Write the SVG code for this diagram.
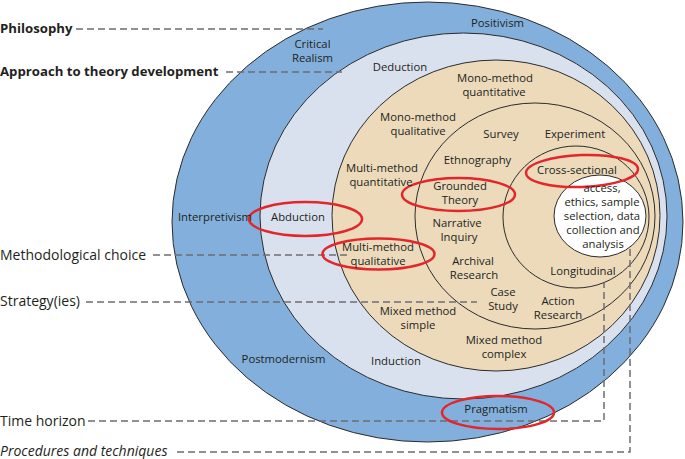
<svg xmlns="http://www.w3.org/2000/svg" width="685" height="459" viewBox="0 0 685 459">
<style>
.ring{stroke:#2b2b2b;stroke-width:1}
.t{font-family:"Open Sans","Noto Sans",sans-serif;font-size:11.3px;fill:#231f20;text-anchor:middle}
.lab{font-family:"Open Sans","Noto Sans",sans-serif;font-size:14px;fill:#231f20}
.lb{font-family:"Open Sans","Noto Sans",sans-serif;font-size:13.2px;font-weight:bold;fill:#231f20}
.dash{fill:none;stroke:#6d6e71;stroke-width:1.5;stroke-dasharray:7 4}
.red{fill:none;stroke:#e3262b;stroke-width:2.5}
</style>
<rect width="685" height="459" fill="#ffffff"/>
<g id="philosophy-layer">
<ellipse class="ring" cx="427.5" cy="222" rx="255.5" ry="220" fill="#82afdb"/>
</g>
<g id="approach-layer">
<ellipse class="ring" cx="463.5" cy="216" rx="203.5" ry="183" fill="#dae1ee"/>
</g>
<g id="choice-layer">
<ellipse class="ring" cx="496" cy="215.5" rx="164" ry="155.5" fill="#ecdabb"/>
</g>
<g id="strategy-layer">
<ellipse class="ring" cx="535" cy="216" rx="120" ry="113" fill="none"/>
</g>
<g id="time-layer">
<ellipse class="ring" cx="576" cy="217" rx="73" ry="71" fill="none"/>
</g>
<g id="techniques-core">
<ellipse class="ring" cx="600" cy="216" rx="46" ry="41" fill="#ffffff"/>
</g>
<g id="connectors">
<path class="dash" d="M76 29H323"/>
<path class="dash" d="M226 72H342"/>
<path class="dash" d="M153 255H350"/>
<path class="dash" d="M86 302H477"/>
<path class="dash" d="M88 421H604V283"/>
<path class="dash" d="M177 452H630V246"/>
</g>
<g id="highlights">
<ellipse class="red" cx="582" cy="171" rx="56" ry="16" transform="rotate(-2 582 171)"/>
<ellipse class="red" cx="458.5" cy="194.5" rx="56.5" ry="16.5"/>
<ellipse class="red" cx="305.5" cy="219" rx="56.5" ry="17"/>
<ellipse class="red" cx="378.5" cy="254" rx="56" ry="15.5"/>
<ellipse class="red" cx="498" cy="412.5" rx="56" ry="16.5"/>
</g>
<g id="side-labels">
<text class="lb" x="0" y="33">Philosophy</text>
<text class="lb" x="0" y="76">Approach to theory development</text>
<text class="lab" x="0" y="260">Methodological choice</text>
<text class="lab" x="0" y="306">Strategy(ies)</text>
<text class="lab" x="0" y="426">Time horizon</text>
<text class="lab" x="0" y="456" font-style="italic">Procedures and techniques</text>
</g>
<g id="philosophy-labels">
<text class="t" x="497.5" y="27">Positivism</text>
<text class="t" x="312.5" y="48">Critical</text>
<text class="t" x="312.5" y="62">Realism</text>
<text class="t" x="215" y="221">Interpretivism</text>
<text class="t" x="283.5" y="363">Postmodernism</text>
<text class="t" x="496" y="413">Pragmatism</text>
</g>
<g id="approach-labels">
<text class="t" x="400" y="71">Deduction</text>
<text class="t" x="298" y="221">Abduction</text>
<text class="t" x="396" y="365">Induction</text>
</g>
<g id="choice-labels">
<text class="t" x="495" y="82">Mono-method</text>
<text class="t" x="494" y="96">quantitative</text>
<text class="t" x="418" y="121">Mono-method</text>
<text class="t" x="418" y="135">qualitative</text>
<text class="t" x="382" y="172">Multi-method</text>
<text class="t" x="381" y="186">quantitative</text>
<text class="t" x="378" y="251">Multi-method</text>
<text class="t" x="378" y="265">qualitative</text>
<text class="t" x="418" y="315">Mixed method</text>
<text class="t" x="418" y="329">simple</text>
<text class="t" x="504" y="344">Mixed method</text>
<text class="t" x="504" y="358">complex</text>
</g>
<g id="strategy-labels">
<text class="t" x="501" y="138">Survey</text>
<text class="t" x="575" y="138">Experiment</text>
<text class="t" x="477.5" y="164">Ethnography</text>
<text class="t" x="460" y="190">Grounded</text>
<text class="t" x="460" y="204">Theory</text>
<text class="t" x="457" y="227">Narrative</text>
<text class="t" x="459" y="241">Inquiry</text>
<text class="t" x="473" y="265">Archival</text>
<text class="t" x="474" y="279">Research</text>
<text class="t" x="503" y="296">Case</text>
<text class="t" x="503" y="310">Study</text>
<text class="t" x="558" y="305">Action</text>
<text class="t" x="558" y="319">Research</text>
</g>
<g id="time-labels">
<text class="t" x="577" y="174">Cross-sectional</text>
<text class="t" x="583" y="275">Longitudinal</text>
</g>
<g id="techniques-labels">
<text class="t" x="602" y="192">access,</text>
<text class="t" x="602" y="206">ethics, sample</text>
<text class="t" x="602" y="220">selection, data</text>
<text class="t" x="603" y="234">collection and</text>
<text class="t" x="603" y="248">analysis</text>
</g>
</svg>
